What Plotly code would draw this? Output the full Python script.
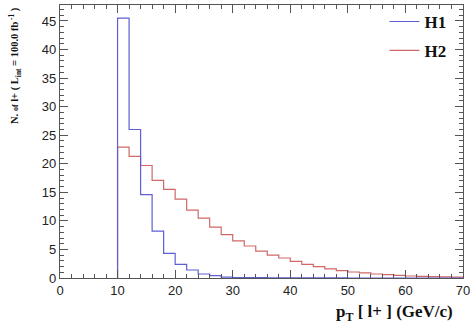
import plotly.graph_objects as go

# Bin edges (GeV/c) and per-bin contents for the two histograms
bin_lo = [10 + 2 * i for i in range(30)]
bin_width = 2
h1_counts = [45.5, 26.0, 14.6, 8.2, 4.3, 2.4, 1.4, 0.7, 0.4, 0.17,
             0.08, 0.06, 0.05, 0.04, 0.03, 0.02, 0.02, 0.02, 0.03, 0.02,
             0.0, 0.0, 0.0, 0.0, 0.0, 0.0, 0.0, 0.0, 0.0, 0.0]
h2_counts = [22.9, 21.3, 19.7, 17.1, 15.5, 13.8, 11.9, 10.5, 8.9, 7.6,
             6.5, 5.6, 4.7, 4.0, 3.5, 2.9, 2.4, 2.0, 1.6, 1.3,
             1.05, 0.9, 0.7, 0.6, 0.45, 0.35, 0.3, 0.25, 0.2, 0.15]

H1_COLOR = "#5f5fd4"
H2_COLOR = "#d06868"


def step_xy(lo, width, counts):
    xs = [lo[0]] + list(lo) + [lo[-1] + width]
    ys = [0] + list(counts) + [counts[-1]]
    return xs, ys


fig = go.Figure()
x1, y1 = step_xy(bin_lo, bin_width, h1_counts)
x2, y2 = step_xy(bin_lo, bin_width, h2_counts)
fig.add_trace(go.Scatter(x=x2, y=y2, mode="lines", line_shape="hv",
                         line=dict(color=H2_COLOR, width=1.2), name="<b>H2</b>",
                         legend="legend2"))
fig.add_trace(go.Scatter(x=x1, y=y1, mode="lines", line_shape="hv",
                         line=dict(color=H1_COLOR, width=1.2), name="<b>H1</b>",
                         legend="legend"))

axis_common = dict(
    showline=True, linecolor="#555555", linewidth=1.2, mirror="ticks",
    ticks="inside", ticklen=8, tickcolor="#555555", tickwidth=1.2,
    showgrid=False, zeroline=False,
    tickfont=dict(family="Liberation Sans, Arial", size=13, color="#222222"),
)
fig.update_xaxes(range=[0, 70], dtick=10, tick0=0,
                 minor=dict(ticks="inside", dtick=2, ticklen=4,
                            tickcolor="#555555", tickwidth=1), **axis_common)
fig.update_yaxes(range=[0, 47.8], dtick=5, tick0=0,
                 minor=dict(ticks="inside", dtick=1, ticklen=4,
                            tickcolor="#555555", tickwidth=1), **axis_common)

legend_style = dict(font=dict(family="Liberation Serif, Times New Roman", size=17,
                              color="#111111"),
                    bgcolor="rgba(0,0,0,0)", borderwidth=0,
                    xanchor="left", yanchor="middle", itemwidth=30,
                    tracegroupgap=0)
fig.update_layout(
    width=474, height=325,
    margin=dict(l=60, r=8, t=4, b=47),
    paper_bgcolor="white", plot_bgcolor="white",
    showlegend=True,
    legend=dict(x=0.805, y=0.938, **legend_style),
    legend2=dict(x=0.805, y=0.832, **legend_style),
)

# Axis titles in the bold serif style
fig.add_annotation(
    xref="paper", yref="paper", x=0.98, y=-0.082, xanchor="right", yanchor="top",
    text="<b>p<sub>T</sub> [ l+ ] (GeV/c)</b>", showarrow=False,
    font=dict(family="Liberation Serif, Times New Roman", size=17, color="#111111"),
)
fig.add_annotation(
    xref="paper", yref="paper", x=-0.113, y=1.0, xanchor="center", yanchor="top",
    textangle=-90,
    text="<b>N. <span style='font-size:8px'>of</span> l+ ( L<sub>int</sub> = 100.0 fb<sup> -1</sup> )</b>",
    showarrow=False,
    font=dict(family="Liberation Serif, Times New Roman", size=10.5, color="#111111"),
)

fig.write_html("out.html")
